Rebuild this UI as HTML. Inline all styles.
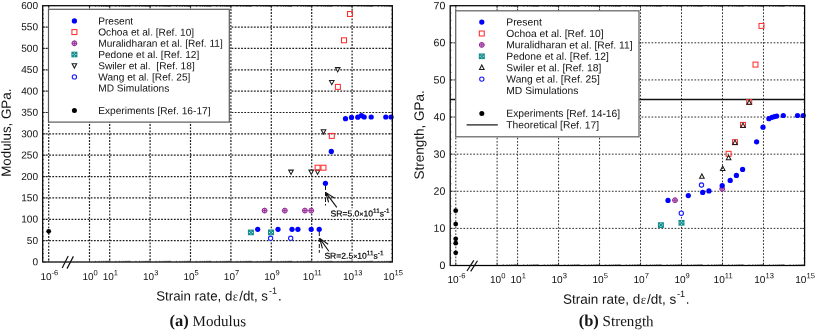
<!DOCTYPE html>
<html lang="en"><head><meta charset="utf-8"><title>Modulus and Strength vs strain rate</title>
<style>html,body{margin:0;padding:0;background:#fff}body{width:815px;height:330px;overflow:hidden}svg{display:block;text-rendering:geometricPrecision}</style>
</head><body>
<svg width="815" height="330" viewBox="0 0 815 330">
<rect width="815" height="330" fill="#fff"/>
<g stroke="#202020" stroke-width="1.2" stroke-dasharray="1.8 1.4" fill="none">
<path d="M48.7 5.7V262"/>
<path d="M89.5 5.7V262"/>
<path d="M109.7 5.7V262"/>
<path d="M150.1 5.7V262"/>
<path d="M190.5 5.7V262"/>
<path d="M230.9 5.7V262"/>
<path d="M271.3 5.7V262"/>
<path d="M311.7 5.7V262"/>
<path d="M352.1 5.7V262"/>
<path d="M42.7 240.64H392.35"/>
<path d="M42.7 219.28H392.35"/>
<path d="M42.7 197.93H392.35"/>
<path d="M42.7 176.57H392.35"/>
<path d="M42.7 155.21H392.35"/>
<path d="M42.7 133.85H392.35"/>
<path d="M42.7 112.49H392.35"/>
<path d="M42.7 91.13H392.35"/>
<path d="M42.7 69.78H392.35"/>
<path d="M42.7 48.42H392.35"/>
<path d="M42.7 27.06H392.35"/>
</g>
<path d="M325.5 186V205.5M319.3 232V252.8" stroke="#111" stroke-width="1" stroke-dasharray="4 2" fill="none"/>
<path d="M335.4 67.6L340 67.6L337.7 71.9Z" fill="#fff" stroke="#1c1c1c" stroke-width="1.05" stroke-linejoin="miter"/>
<path d="M329.5 80.4L334.1 80.4L331.8 84.7Z" fill="#fff" stroke="#1c1c1c" stroke-width="1.05" stroke-linejoin="miter"/>
<path d="M321.2 129.8L325.8 129.8L323.5 134.1Z" fill="#fff" stroke="#1c1c1c" stroke-width="1.05" stroke-linejoin="miter"/>
<path d="M288.7 170.1L293.3 170.1L291 174.4Z" fill="#fff" stroke="#1c1c1c" stroke-width="1.05" stroke-linejoin="miter"/>
<path d="M308.9 170.1L313.5 170.1L311.2 174.4Z" fill="#fff" stroke="#1c1c1c" stroke-width="1.05" stroke-linejoin="miter"/>
<path d="M315.3 170.1L319.9 170.1L317.6 174.4Z" fill="#fff" stroke="#1c1c1c" stroke-width="1.05" stroke-linejoin="miter"/>
<rect x="347.52" y="11.53" width="4.95" height="4.95" fill="none" stroke="#ff2e2e" stroke-width="1.05"/>
<rect x="341.52" y="37.82" width="4.95" height="4.95" fill="none" stroke="#ff2e2e" stroke-width="1.05"/>
<rect x="335.42" y="84.43" width="4.95" height="4.95" fill="none" stroke="#ff2e2e" stroke-width="1.05"/>
<rect x="329.32" y="133.43" width="4.95" height="4.95" fill="none" stroke="#ff2e2e" stroke-width="1.05"/>
<rect x="315.12" y="165.22" width="4.95" height="4.95" fill="none" stroke="#ff2e2e" stroke-width="1.05"/>
<rect x="321.02" y="165.22" width="4.95" height="4.95" fill="none" stroke="#ff2e2e" stroke-width="1.05"/>
<circle cx="264.6" cy="210.6" r="2.45" fill="#d6a6d6" stroke="#8f1f8f" stroke-width="0.95"/><path d="M262.15 210.6h4.9M264.6 208.15v4.9" stroke="#8f1f8f" stroke-width="0.8" fill="none"/>
<circle cx="284.8" cy="210.6" r="2.45" fill="#d6a6d6" stroke="#8f1f8f" stroke-width="0.95"/><path d="M282.35 210.6h4.9M284.8 208.15v4.9" stroke="#8f1f8f" stroke-width="0.8" fill="none"/>
<circle cx="304.9" cy="210.6" r="2.45" fill="#d6a6d6" stroke="#8f1f8f" stroke-width="0.95"/><path d="M302.45 210.6h4.9M304.9 208.15v4.9" stroke="#8f1f8f" stroke-width="0.8" fill="none"/>
<circle cx="311.2" cy="210.6" r="2.45" fill="#d6a6d6" stroke="#8f1f8f" stroke-width="0.95"/><path d="M308.75 210.6h4.9M311.2 208.15v4.9" stroke="#8f1f8f" stroke-width="0.8" fill="none"/>
<rect x="247.9" y="229.55" width="6" height="5.7" fill="#148c8c"/><path d="M250.4 230.4h1v1h-1zM250.4 233.4h1v1h-1zM248.9 231.9h1v1h-1zM251.9 231.9h1v1h-1z" fill="#c4eeee"/>
<rect x="268" y="229.55" width="6" height="5.7" fill="#148c8c"/><path d="M270.5 230.4h1v1h-1zM270.5 233.4h1v1h-1zM269 231.9h1v1h-1zM272 231.9h1v1h-1z" fill="#c4eeee"/>
<circle cx="270.6" cy="238.3" r="2.15" fill="#fff" stroke="#1a1aff" stroke-width="1.1"/>
<circle cx="290.7" cy="238.3" r="2.15" fill="#fff" stroke="#1a1aff" stroke-width="1.1"/>
<circle cx="257.7" cy="229.3" r="2.62" fill="#0000ff"/>
<circle cx="278" cy="229.3" r="2.62" fill="#0000ff"/>
<circle cx="292" cy="229.3" r="2.62" fill="#0000ff"/>
<circle cx="297.9" cy="229.3" r="2.62" fill="#0000ff"/>
<circle cx="311.2" cy="229.3" r="2.62" fill="#0000ff"/>
<circle cx="319.2" cy="229.3" r="2.62" fill="#0000ff"/>
<circle cx="325.4" cy="183.3" r="2.62" fill="#0000ff"/>
<circle cx="331.3" cy="151.4" r="2.62" fill="#0000ff"/>
<circle cx="345.5" cy="118.7" r="2.62" fill="#0000ff"/>
<circle cx="351.5" cy="117.4" r="2.62" fill="#0000ff"/>
<circle cx="357.8" cy="117.2" r="2.62" fill="#0000ff"/>
<circle cx="361.4" cy="115.6" r="2.62" fill="#0000ff"/>
<circle cx="364.2" cy="117" r="2.62" fill="#0000ff"/>
<circle cx="371.2" cy="117" r="2.62" fill="#0000ff"/>
<circle cx="385.8" cy="117" r="2.62" fill="#0000ff"/>
<circle cx="391.1" cy="117" r="2.62" fill="#0000ff"/>
<circle cx="48.7" cy="231.3" r="2.4" fill="#000"/>
<path d="M336.8 207.3L325.6 192.4M325.6 192.4L334.23 198.02M325.6 192.4L328.6 202.25" stroke="#111" stroke-width="1.1" fill="none"/>
<path d="M329.2 251.8L319.7 238.4M319.7 238.4L328.17 244.26M319.7 238.4L322.42 248.33" stroke="#111" stroke-width="1.1" fill="none"/>
<path d="M330.3 208.3H390V218.4H330.3ZM324.2 251.6H384V260.9H324.2Z" fill="#fff"/>
<g font-family="Liberation Sans, Arial, sans-serif" font-size="8.55" fill="#000" stroke="#000" stroke-width="0.2">
<text x="330.6" y="216.6" transform="rotate(0.03 330.6 216.6)">SR=5.0<tspan font-size="7.2">×</tspan>10<tspan dy="-3.6" font-size="6.4">11</tspan><tspan dy="3.6">s</tspan><tspan dy="-3.6" font-size="6.4">-1</tspan></text>
<text x="324.4" y="258.8" transform="rotate(0.03 324.4 258.8)">SR=2.5<tspan font-size="7.2">×</tspan>10<tspan dy="-3.6" font-size="6.4">11</tspan><tspan dy="3.6">s</tspan><tspan dy="-3.6" font-size="6.4">-1</tspan></text>
</g>
<g stroke="#000" fill="none">
<rect x="42.7" y="5.7" width="349.65" height="256.3" stroke-width="1.25"/>
<path d="M42.7 262h3M392.35 262h-3M42.7 257.73h1.3M392.35 257.73h-1.3M42.7 253.46h1.3M392.35 253.46h-1.3M42.7 249.19h1.3M392.35 249.19h-1.3M42.7 244.91h1.3M392.35 244.91h-1.3M42.7 240.64h3M392.35 240.64h-3M42.7 236.37h1.3M392.35 236.37h-1.3M42.7 232.1h1.3M392.35 232.1h-1.3M42.7 227.83h1.3M392.35 227.83h-1.3M42.7 223.56h1.3M392.35 223.56h-1.3M42.7 219.28h3M392.35 219.28h-3M42.7 215.01h1.3M392.35 215.01h-1.3M42.7 210.74h1.3M392.35 210.74h-1.3M42.7 206.47h1.3M392.35 206.47h-1.3M42.7 202.2h1.3M392.35 202.2h-1.3M42.7 197.93h3M392.35 197.93h-3M42.7 193.65h1.3M392.35 193.65h-1.3M42.7 189.38h1.3M392.35 189.38h-1.3M42.7 185.11h1.3M392.35 185.11h-1.3M42.7 180.84h1.3M392.35 180.84h-1.3M42.7 176.57h3M392.35 176.57h-3M42.7 172.3h1.3M392.35 172.3h-1.3M42.7 168.02h1.3M392.35 168.02h-1.3M42.7 163.75h1.3M392.35 163.75h-1.3M42.7 159.48h1.3M392.35 159.48h-1.3M42.7 155.21h3M392.35 155.21h-3M42.7 150.94h1.3M392.35 150.94h-1.3M42.7 146.67h1.3M392.35 146.67h-1.3M42.7 142.39h1.3M392.35 142.39h-1.3M42.7 138.12h1.3M392.35 138.12h-1.3M42.7 133.85h3M392.35 133.85h-3M42.7 129.58h1.3M392.35 129.58h-1.3M42.7 125.31h1.3M392.35 125.31h-1.3M42.7 121.03h1.3M392.35 121.03h-1.3M42.7 116.76h1.3M392.35 116.76h-1.3M42.7 112.49h3M392.35 112.49h-3M42.7 108.22h1.3M392.35 108.22h-1.3M42.7 103.95h1.3M392.35 103.95h-1.3M42.7 99.68h1.3M392.35 99.68h-1.3M42.7 95.41h1.3M392.35 95.41h-1.3M42.7 91.13h3M392.35 91.13h-3M42.7 86.86h1.3M392.35 86.86h-1.3M42.7 82.59h1.3M392.35 82.59h-1.3M42.7 78.32h1.3M392.35 78.32h-1.3M42.7 74.05h1.3M392.35 74.05h-1.3M42.7 69.78h3M392.35 69.78h-3M42.7 65.5h1.3M392.35 65.5h-1.3M42.7 61.23h1.3M392.35 61.23h-1.3M42.7 56.96h1.3M392.35 56.96h-1.3M42.7 52.69h1.3M392.35 52.69h-1.3M42.7 48.42h3M392.35 48.42h-3M42.7 44.15h1.3M392.35 44.15h-1.3M42.7 39.87h1.3M392.35 39.87h-1.3M42.7 35.6h1.3M392.35 35.6h-1.3M42.7 31.33h1.3M392.35 31.33h-1.3M42.7 27.06h3M392.35 27.06h-3M42.7 22.79h1.3M392.35 22.79h-1.3M42.7 18.51h1.3M392.35 18.51h-1.3M42.7 14.24h1.3M392.35 14.24h-1.3M42.7 9.97h1.3M392.35 9.97h-1.3M42.7 5.7h3M392.35 5.7h-3M89.5 262v-3M89.5 5.7v3M109.7 262v-3M109.7 5.7v3M129.9 262v-1.3M129.9 5.7v1.3M150.1 262v-3M150.1 5.7v3M170.3 262v-1.3M170.3 5.7v1.3M190.5 262v-3M190.5 5.7v3M210.7 262v-1.3M210.7 5.7v1.3M230.9 262v-3M230.9 5.7v3M251.1 262v-1.3M251.1 5.7v1.3M271.3 262v-3M271.3 5.7v3M291.5 262v-1.3M291.5 5.7v1.3M311.7 262v-3M311.7 5.7v3M331.9 262v-1.3M331.9 5.7v1.3M352.1 262v-3M352.1 5.7v3M372.3 262v-1.3M372.3 5.7v1.3M392.5 262v-3M392.5 5.7v3M95.58 262v-1.2M95.58 5.7v1.2M99.14 262v-1.2M99.14 5.7v1.2M101.66 262v-1.2M101.66 5.7v1.2M103.62 262v-1.2M103.62 5.7v1.2M105.22 262v-1.2M105.22 5.7v1.2M106.57 262v-1.2M106.57 5.7v1.2M107.74 262v-1.2M107.74 5.7v1.2M108.78 262v-1.2M108.78 5.7v1.2M115.78 262v-1.2M115.78 5.7v1.2M119.34 262v-1.2M119.34 5.7v1.2M121.86 262v-1.2M121.86 5.7v1.2M123.82 262v-1.2M123.82 5.7v1.2M125.42 262v-1.2M125.42 5.7v1.2M126.77 262v-1.2M126.77 5.7v1.2M127.94 262v-1.2M127.94 5.7v1.2M128.98 262v-1.2M128.98 5.7v1.2M135.98 262v-1.2M135.98 5.7v1.2M139.54 262v-1.2M139.54 5.7v1.2M142.06 262v-1.2M142.06 5.7v1.2M144.02 262v-1.2M144.02 5.7v1.2M145.62 262v-1.2M145.62 5.7v1.2M146.97 262v-1.2M146.97 5.7v1.2M148.14 262v-1.2M148.14 5.7v1.2M149.18 262v-1.2M149.18 5.7v1.2M156.18 262v-1.2M156.18 5.7v1.2M159.74 262v-1.2M159.74 5.7v1.2M162.26 262v-1.2M162.26 5.7v1.2M164.22 262v-1.2M164.22 5.7v1.2M165.82 262v-1.2M165.82 5.7v1.2M167.17 262v-1.2M167.17 5.7v1.2M168.34 262v-1.2M168.34 5.7v1.2M169.38 262v-1.2M169.38 5.7v1.2M176.38 262v-1.2M176.38 5.7v1.2M179.94 262v-1.2M179.94 5.7v1.2M182.46 262v-1.2M182.46 5.7v1.2M184.42 262v-1.2M184.42 5.7v1.2M186.02 262v-1.2M186.02 5.7v1.2M187.37 262v-1.2M187.37 5.7v1.2M188.54 262v-1.2M188.54 5.7v1.2M189.58 262v-1.2M189.58 5.7v1.2M196.58 262v-1.2M196.58 5.7v1.2M200.14 262v-1.2M200.14 5.7v1.2M202.66 262v-1.2M202.66 5.7v1.2M204.62 262v-1.2M204.62 5.7v1.2M206.22 262v-1.2M206.22 5.7v1.2M207.57 262v-1.2M207.57 5.7v1.2M208.74 262v-1.2M208.74 5.7v1.2M209.78 262v-1.2M209.78 5.7v1.2M216.78 262v-1.2M216.78 5.7v1.2M220.34 262v-1.2M220.34 5.7v1.2M222.86 262v-1.2M222.86 5.7v1.2M224.82 262v-1.2M224.82 5.7v1.2M226.42 262v-1.2M226.42 5.7v1.2M227.77 262v-1.2M227.77 5.7v1.2M228.94 262v-1.2M228.94 5.7v1.2M229.98 262v-1.2M229.98 5.7v1.2M236.98 262v-1.2M236.98 5.7v1.2M240.54 262v-1.2M240.54 5.7v1.2M243.06 262v-1.2M243.06 5.7v1.2M245.02 262v-1.2M245.02 5.7v1.2M246.62 262v-1.2M246.62 5.7v1.2M247.97 262v-1.2M247.97 5.7v1.2M249.14 262v-1.2M249.14 5.7v1.2M250.18 262v-1.2M250.18 5.7v1.2M257.18 262v-1.2M257.18 5.7v1.2M260.74 262v-1.2M260.74 5.7v1.2M263.26 262v-1.2M263.26 5.7v1.2M265.22 262v-1.2M265.22 5.7v1.2M266.82 262v-1.2M266.82 5.7v1.2M268.17 262v-1.2M268.17 5.7v1.2M269.34 262v-1.2M269.34 5.7v1.2M270.38 262v-1.2M270.38 5.7v1.2M277.38 262v-1.2M277.38 5.7v1.2M280.94 262v-1.2M280.94 5.7v1.2M283.46 262v-1.2M283.46 5.7v1.2M285.42 262v-1.2M285.42 5.7v1.2M287.02 262v-1.2M287.02 5.7v1.2M288.37 262v-1.2M288.37 5.7v1.2M289.54 262v-1.2M289.54 5.7v1.2M290.58 262v-1.2M290.58 5.7v1.2M297.58 262v-1.2M297.58 5.7v1.2M301.14 262v-1.2M301.14 5.7v1.2M303.66 262v-1.2M303.66 5.7v1.2M305.62 262v-1.2M305.62 5.7v1.2M307.22 262v-1.2M307.22 5.7v1.2M308.57 262v-1.2M308.57 5.7v1.2M309.74 262v-1.2M309.74 5.7v1.2M310.78 262v-1.2M310.78 5.7v1.2M317.78 262v-1.2M317.78 5.7v1.2M321.34 262v-1.2M321.34 5.7v1.2M323.86 262v-1.2M323.86 5.7v1.2M325.82 262v-1.2M325.82 5.7v1.2M327.42 262v-1.2M327.42 5.7v1.2M328.77 262v-1.2M328.77 5.7v1.2M329.94 262v-1.2M329.94 5.7v1.2M330.98 262v-1.2M330.98 5.7v1.2M337.98 262v-1.2M337.98 5.7v1.2M341.54 262v-1.2M341.54 5.7v1.2M344.06 262v-1.2M344.06 5.7v1.2M346.02 262v-1.2M346.02 5.7v1.2M347.62 262v-1.2M347.62 5.7v1.2M348.97 262v-1.2M348.97 5.7v1.2M350.14 262v-1.2M350.14 5.7v1.2M351.18 262v-1.2M351.18 5.7v1.2M358.18 262v-1.2M358.18 5.7v1.2M361.74 262v-1.2M361.74 5.7v1.2M364.26 262v-1.2M364.26 5.7v1.2M366.22 262v-1.2M366.22 5.7v1.2M367.82 262v-1.2M367.82 5.7v1.2M369.17 262v-1.2M369.17 5.7v1.2M370.34 262v-1.2M370.34 5.7v1.2M371.38 262v-1.2M371.38 5.7v1.2M378.38 262v-1.2M378.38 5.7v1.2M381.94 262v-1.2M381.94 5.7v1.2M384.46 262v-1.2M384.46 5.7v1.2M386.42 262v-1.2M386.42 5.7v1.2M388.02 262v-1.2M388.02 5.7v1.2M389.37 262v-1.2M389.37 5.7v1.2M390.54 262v-1.2M390.54 5.7v1.2M391.58 262v-1.2M391.58 5.7v1.2M48.7 262v-3.2M48.7 5.7v3.2" stroke-width="0.65" stroke="#222"/>
</g>
<path d="M62.2 268L68.2 256M67 268.6L73.4 256.4" stroke="#111" stroke-width="1.2" fill="none"/>
<g font-family="Liberation Sans, Arial, sans-serif" font-size="10.1" fill="#111">
<text x="38.1" y="265.33" text-anchor="end" transform="rotate(0.03 38.1 265.33)">0</text>
<text x="38.1" y="243.97" text-anchor="end" transform="rotate(0.03 38.1 243.97)">50</text>
<text x="38.1" y="222.62" text-anchor="end" transform="rotate(0.03 38.1 222.62)">100</text>
<text x="38.1" y="201.26" text-anchor="end" transform="rotate(0.03 38.1 201.26)">150</text>
<text x="38.1" y="179.9" text-anchor="end" transform="rotate(0.03 38.1 179.9)">200</text>
<text x="38.1" y="158.54" text-anchor="end" transform="rotate(0.03 38.1 158.54)">250</text>
<text x="38.1" y="137.18" text-anchor="end" transform="rotate(0.03 38.1 137.18)">300</text>
<text x="38.1" y="115.82" text-anchor="end" transform="rotate(0.03 38.1 115.82)">350</text>
<text x="38.1" y="94.47" text-anchor="end" transform="rotate(0.03 38.1 94.47)">400</text>
<text x="38.1" y="73.11" text-anchor="end" transform="rotate(0.03 38.1 73.11)">450</text>
<text x="38.1" y="51.75" text-anchor="end" transform="rotate(0.03 38.1 51.75)">500</text>
<text x="38.1" y="30.39" text-anchor="end" transform="rotate(0.03 38.1 30.39)">550</text>
<text x="38.1" y="9.03" text-anchor="end" transform="rotate(0.03 38.1 9.03)">600</text>
</g>
<g font-family="Liberation Sans, Arial, sans-serif" font-size="10" fill="#111">
<text x="49.3" y="280.1" text-anchor="middle" transform="rotate(0.03 49.3 280.1)">10<tspan dx="0" dy="-4.8" font-size="7.5">-6</tspan></text>
<text x="90.1" y="280.1" text-anchor="middle" transform="rotate(0.03 90.1 280.1)">10<tspan dx="0" dy="-4.8" font-size="7.5">0</tspan></text>
<text x="110.3" y="280.1" text-anchor="middle" transform="rotate(0.03 110.3 280.1)">10<tspan dx="0" dy="-4.8" font-size="7.5">1</tspan></text>
<text x="150.7" y="280.1" text-anchor="middle" transform="rotate(0.03 150.7 280.1)">10<tspan dx="0" dy="-4.8" font-size="7.5">3</tspan></text>
<text x="191.1" y="280.1" text-anchor="middle" transform="rotate(0.03 191.1 280.1)">10<tspan dx="0" dy="-4.8" font-size="7.5">5</tspan></text>
<text x="231.5" y="280.1" text-anchor="middle" transform="rotate(0.03 231.5 280.1)">10<tspan dx="0" dy="-4.8" font-size="7.5">7</tspan></text>
<text x="271.9" y="280.1" text-anchor="middle" transform="rotate(0.03 271.9 280.1)">10<tspan dx="0" dy="-4.8" font-size="7.5">9</tspan></text>
<text x="312.3" y="280.1" text-anchor="middle" transform="rotate(0.03 312.3 280.1)">10<tspan dx="0" dy="-4.8" font-size="7.5">11</tspan></text>
<text x="352.7" y="280.1" text-anchor="middle" transform="rotate(0.03 352.7 280.1)">10<tspan dx="0" dy="-4.8" font-size="7.5">13</tspan></text>
<text x="393.1" y="280.1" text-anchor="middle" transform="rotate(0.03 393.1 280.1)">10<tspan dx="0" dy="-4.8" font-size="7.5">15</tspan></text>
</g>
<rect x="48.5" y="9.3" width="180.8" height="112.8" fill="#fff" stroke="#5a5a5a" stroke-width="1.2"/>
<circle cx="74.4" cy="20.9" r="2.62" fill="#0000ff"/>
<rect x="71.93" y="29.62" width="4.95" height="4.95" fill="none" stroke="#ff2e2e" stroke-width="1.05"/>
<circle cx="74.4" cy="43.3" r="2.45" fill="#d6a6d6" stroke="#8f1f8f" stroke-width="0.95"/><path d="M71.95 43.3h4.9M74.4 40.85v4.9" stroke="#8f1f8f" stroke-width="0.8" fill="none"/>
<rect x="71.4" y="51.65" width="6" height="5.7" fill="#148c8c"/><path d="M73.9 52.5h1v1h-1zM73.9 55.5h1v1h-1zM72.4 54h1v1h-1zM75.4 54h1v1h-1z" fill="#c4eeee"/>
<path d="M72.1 63.8L76.7 63.8L74.4 68.1Z" fill="#fff" stroke="#1c1c1c" stroke-width="1.05" stroke-linejoin="miter"/>
<circle cx="74.4" cy="76.9" r="2.15" fill="#fff" stroke="#1a1aff" stroke-width="1.1"/>
<circle cx="74.4" cy="110.6" r="2.5" fill="#000"/>
<g font-family="Liberation Sans, Arial, sans-serif" font-size="10.16" fill="#111">
<text x="98.2" y="24.4" xml:space="preserve" transform="rotate(0.03 98.2 24.4)">Present</text>
<text x="98.2" y="35.6" xml:space="preserve" transform="rotate(0.03 98.2 35.6)">Ochoa et al. [Ref. 10]</text>
<text x="98.2" y="46.8" xml:space="preserve" transform="rotate(0.03 98.2 46.8)">Muralidharan et al. [Ref. 11]</text>
<text x="98.2" y="58" xml:space="preserve" transform="rotate(0.03 98.2 58)">Pedone et al. [Ref. 12]</text>
<text x="98.2" y="69.2" xml:space="preserve" transform="rotate(0.03 98.2 69.2)">Swiler et al.  [Ref. 18]</text>
<text x="98.2" y="80.4" xml:space="preserve" transform="rotate(0.03 98.2 80.4)">Wang et al. [Ref. 25]</text>
<text x="98.2" y="91.6" xml:space="preserve" transform="rotate(0.03 98.2 91.6)">MD Simulations</text>
<text x="98.2" y="114.1" xml:space="preserve" transform="rotate(0.03 98.2 114.1)">Experiments [Ref. 16-17]</text>
</g>
<text font-family="Liberation Sans, Arial, sans-serif" font-size="13.33" fill="#111" text-anchor="middle" transform="translate(10.8 132.7) rotate(-89.97)">Modulus, GPa.</text>
<text font-family="Liberation Sans, Arial, sans-serif" font-size="13.3" fill="#111" x="156.2" y="300.5" transform="rotate(0.03 156.2 300.5)">Strain rate, d<tspan font-family="Liberation Serif, Times New Roman, serif" font-size="12.5" dx="0.4">ε</tspan><tspan dx="1.2">/dt, s</tspan><tspan dy="-6.7" dx="1" font-size="9">-1</tspan><tspan dy="6.7" dx="1">.</tspan></text>
<text font-family="Liberation Serif, Times New Roman, serif" font-size="15.05" fill="#161616" x="169.5" y="326.1" transform="rotate(0.03 169.5 326.1)"><tspan font-weight="bold" font-size="16.5">(a)</tspan> Modulus</text>
<g stroke="#262626" stroke-width="0.95" stroke-dasharray="1.7 1.6" fill="none">
<path d="M455.8 5.7V265.5"/>
<path d="M497.1 5.7V265.5"/>
<path d="M517.59 5.7V265.5"/>
<path d="M558.57 5.7V265.5"/>
<path d="M599.55 5.7V265.5"/>
<path d="M640.53 5.7V265.5"/>
<path d="M681.51 5.7V265.5"/>
<path d="M722.49 5.7V265.5"/>
<path d="M763.47 5.7V265.5"/>
<path d="M450.2 228.39H804.6"/>
<path d="M450.2 191.27H804.6"/>
<path d="M450.2 154.16H804.6"/>
<path d="M450.2 117.04H804.6"/>
<path d="M450.2 79.93H804.6"/>
<path d="M450.2 42.81H804.6"/>
</g>
<path d="M450.2 99.5H804.6" stroke="#111" stroke-width="1.3" fill="none"/>
<rect x="759.02" y="23.42" width="4.95" height="4.95" fill="none" stroke="#ff2e2e" stroke-width="1.05"/>
<rect x="753.02" y="62.12" width="4.95" height="4.95" fill="none" stroke="#ff2e2e" stroke-width="1.05"/>
<rect x="746.73" y="99.53" width="4.95" height="4.95" fill="none" stroke="#ff2e2e" stroke-width="1.05"/>
<rect x="740.52" y="122.43" width="4.95" height="4.95" fill="none" stroke="#ff2e2e" stroke-width="1.05"/>
<rect x="732.52" y="139.72" width="4.95" height="4.95" fill="none" stroke="#ff2e2e" stroke-width="1.05"/>
<rect x="726.12" y="151.33" width="4.95" height="4.95" fill="none" stroke="#ff2e2e" stroke-width="1.05"/>
<path d="M746.9 104.3L751.5 104.3L749.2 99.9Z" fill="none" stroke="#1c1c1c" stroke-width="1.05"/>
<path d="M740.7 127.5L745.3 127.5L743 123.1Z" fill="none" stroke="#1c1c1c" stroke-width="1.05"/>
<path d="M732.7 144.5L737.3 144.5L735 140.1Z" fill="none" stroke="#1c1c1c" stroke-width="1.05"/>
<path d="M726.3 159.7L730.9 159.7L728.6 155.3Z" fill="none" stroke="#1c1c1c" stroke-width="1.05"/>
<path d="M720.4 170.5L725 170.5L722.7 166.1Z" fill="none" stroke="#1c1c1c" stroke-width="1.05"/>
<path d="M699.6 178.3L704.2 178.3L701.9 173.9Z" fill="none" stroke="#1c1c1c" stroke-width="1.05"/>
<circle cx="722.2" cy="188.8" r="2.45" fill="#d6a6d6" stroke="#8f1f8f" stroke-width="0.95"/><path d="M719.75 188.8h4.9M722.2 186.35v4.9" stroke="#8f1f8f" stroke-width="0.8" fill="none"/>
<circle cx="675" cy="200.2" r="2.45" fill="#d6a6d6" stroke="#8f1f8f" stroke-width="0.95"/><path d="M672.55 200.2h4.9M675 197.75v4.9" stroke="#8f1f8f" stroke-width="0.8" fill="none"/>
<rect x="657.9" y="222.25" width="6" height="5.7" fill="#148c8c"/><path d="M660.4 223.1h1v1h-1zM660.4 226.1h1v1h-1zM658.9 224.6h1v1h-1zM661.9 224.6h1v1h-1z" fill="#c4eeee"/>
<rect x="678.5" y="219.95" width="6" height="5.7" fill="#148c8c"/><path d="M681 220.8h1v1h-1zM681 223.8h1v1h-1zM679.5 222.3h1v1h-1zM682.5 222.3h1v1h-1z" fill="#c4eeee"/>
<circle cx="701.5" cy="185" r="2.15" fill="#fff" stroke="#1a1aff" stroke-width="1.1"/>
<circle cx="681.3" cy="213.2" r="2.15" fill="#fff" stroke="#1a1aff" stroke-width="1.1"/>
<circle cx="668" cy="200.4" r="2.62" fill="#0000ff"/>
<circle cx="688.3" cy="195.6" r="2.62" fill="#0000ff"/>
<circle cx="702.7" cy="192.4" r="2.62" fill="#0000ff"/>
<circle cx="708.9" cy="190.9" r="2.62" fill="#0000ff"/>
<circle cx="722.2" cy="185.6" r="2.62" fill="#0000ff"/>
<circle cx="730.2" cy="180.4" r="2.62" fill="#0000ff"/>
<circle cx="736.4" cy="175.4" r="2.62" fill="#0000ff"/>
<circle cx="742.6" cy="169.4" r="2.62" fill="#0000ff"/>
<circle cx="756.6" cy="141.8" r="2.62" fill="#0000ff"/>
<circle cx="763" cy="127.2" r="2.62" fill="#0000ff"/>
<circle cx="768.9" cy="118.7" r="2.62" fill="#0000ff"/>
<circle cx="772" cy="117.3" r="2.62" fill="#0000ff"/>
<circle cx="774.6" cy="116.6" r="2.62" fill="#0000ff"/>
<circle cx="776.7" cy="116.1" r="2.62" fill="#0000ff"/>
<circle cx="783.3" cy="115.5" r="2.62" fill="#0000ff"/>
<circle cx="797.5" cy="115.5" r="2.62" fill="#0000ff"/>
<circle cx="803.2" cy="115.5" r="2.62" fill="#0000ff"/>
<circle cx="455.7" cy="210.7" r="2.4" fill="#000"/>
<circle cx="455.7" cy="224.1" r="2.4" fill="#000"/>
<circle cx="455.7" cy="238.8" r="2.4" fill="#000"/>
<circle cx="455.7" cy="243.2" r="2.4" fill="#000"/>
<circle cx="455.7" cy="252.8" r="2.4" fill="#000"/>
<g stroke="#000" fill="none">
<rect x="450.2" y="5.7" width="354.4" height="259.8" stroke-width="1.25"/>
<path d="M450.2 265.5h3M804.6 265.5h-3M450.2 258.08h1.3M804.6 258.08h-1.3M450.2 250.65h1.3M804.6 250.65h-1.3M450.2 243.23h1.3M804.6 243.23h-1.3M450.2 235.81h1.3M804.6 235.81h-1.3M450.2 228.39h3M804.6 228.39h-3M450.2 220.96h1.3M804.6 220.96h-1.3M450.2 213.54h1.3M804.6 213.54h-1.3M450.2 206.12h1.3M804.6 206.12h-1.3M450.2 198.69h1.3M804.6 198.69h-1.3M450.2 191.27h3M804.6 191.27h-3M450.2 183.85h1.3M804.6 183.85h-1.3M450.2 176.43h1.3M804.6 176.43h-1.3M450.2 169h1.3M804.6 169h-1.3M450.2 161.58h1.3M804.6 161.58h-1.3M450.2 154.16h3M804.6 154.16h-3M450.2 146.73h1.3M804.6 146.73h-1.3M450.2 139.31h1.3M804.6 139.31h-1.3M450.2 131.89h1.3M804.6 131.89h-1.3M450.2 124.47h1.3M804.6 124.47h-1.3M450.2 117.04h3M804.6 117.04h-3M450.2 109.62h1.3M804.6 109.62h-1.3M450.2 102.2h1.3M804.6 102.2h-1.3M450.2 94.77h1.3M804.6 94.77h-1.3M450.2 87.35h1.3M804.6 87.35h-1.3M450.2 79.93h3M804.6 79.93h-3M450.2 72.51h1.3M804.6 72.51h-1.3M450.2 65.08h1.3M804.6 65.08h-1.3M450.2 57.66h1.3M804.6 57.66h-1.3M450.2 50.24h1.3M804.6 50.24h-1.3M450.2 42.81h3M804.6 42.81h-3M450.2 35.39h1.3M804.6 35.39h-1.3M450.2 27.97h1.3M804.6 27.97h-1.3M450.2 20.55h1.3M804.6 20.55h-1.3M450.2 13.12h1.3M804.6 13.12h-1.3M450.2 5.7h3M804.6 5.7h-3M497.1 265.5v-3M497.1 5.7v3M517.59 265.5v-3M517.59 5.7v3M538.08 265.5v-1.3M538.08 5.7v1.3M558.57 265.5v-3M558.57 5.7v3M579.06 265.5v-1.3M579.06 5.7v1.3M599.55 265.5v-3M599.55 5.7v3M620.04 265.5v-1.3M620.04 5.7v1.3M640.53 265.5v-3M640.53 5.7v3M661.02 265.5v-1.3M661.02 5.7v1.3M681.51 265.5v-3M681.51 5.7v3M702 265.5v-1.3M702 5.7v1.3M722.49 265.5v-3M722.49 5.7v3M742.98 265.5v-1.3M742.98 5.7v1.3M763.47 265.5v-3M763.47 5.7v3M783.96 265.5v-1.3M783.96 5.7v1.3M804.45 265.5v-3M804.45 5.7v3M503.27 265.5v-1.2M503.27 5.7v1.2M506.88 265.5v-1.2M506.88 5.7v1.2M509.44 265.5v-1.2M509.44 5.7v1.2M511.42 265.5v-1.2M511.42 5.7v1.2M513.04 265.5v-1.2M513.04 5.7v1.2M514.42 265.5v-1.2M514.42 5.7v1.2M515.6 265.5v-1.2M515.6 5.7v1.2M516.65 265.5v-1.2M516.65 5.7v1.2M523.76 265.5v-1.2M523.76 5.7v1.2M527.37 265.5v-1.2M527.37 5.7v1.2M529.93 265.5v-1.2M529.93 5.7v1.2M531.91 265.5v-1.2M531.91 5.7v1.2M533.53 265.5v-1.2M533.53 5.7v1.2M534.91 265.5v-1.2M534.91 5.7v1.2M536.09 265.5v-1.2M536.09 5.7v1.2M537.14 265.5v-1.2M537.14 5.7v1.2M544.25 265.5v-1.2M544.25 5.7v1.2M547.86 265.5v-1.2M547.86 5.7v1.2M550.42 265.5v-1.2M550.42 5.7v1.2M552.4 265.5v-1.2M552.4 5.7v1.2M554.02 265.5v-1.2M554.02 5.7v1.2M555.4 265.5v-1.2M555.4 5.7v1.2M556.58 265.5v-1.2M556.58 5.7v1.2M557.63 265.5v-1.2M557.63 5.7v1.2M564.74 265.5v-1.2M564.74 5.7v1.2M568.35 265.5v-1.2M568.35 5.7v1.2M570.91 265.5v-1.2M570.91 5.7v1.2M572.89 265.5v-1.2M572.89 5.7v1.2M574.51 265.5v-1.2M574.51 5.7v1.2M575.89 265.5v-1.2M575.89 5.7v1.2M577.07 265.5v-1.2M577.07 5.7v1.2M578.12 265.5v-1.2M578.12 5.7v1.2M585.23 265.5v-1.2M585.23 5.7v1.2M588.84 265.5v-1.2M588.84 5.7v1.2M591.4 265.5v-1.2M591.4 5.7v1.2M593.38 265.5v-1.2M593.38 5.7v1.2M595 265.5v-1.2M595 5.7v1.2M596.38 265.5v-1.2M596.38 5.7v1.2M597.56 265.5v-1.2M597.56 5.7v1.2M598.61 265.5v-1.2M598.61 5.7v1.2M605.72 265.5v-1.2M605.72 5.7v1.2M609.33 265.5v-1.2M609.33 5.7v1.2M611.89 265.5v-1.2M611.89 5.7v1.2M613.87 265.5v-1.2M613.87 5.7v1.2M615.49 265.5v-1.2M615.49 5.7v1.2M616.87 265.5v-1.2M616.87 5.7v1.2M618.05 265.5v-1.2M618.05 5.7v1.2M619.1 265.5v-1.2M619.1 5.7v1.2M626.21 265.5v-1.2M626.21 5.7v1.2M629.82 265.5v-1.2M629.82 5.7v1.2M632.38 265.5v-1.2M632.38 5.7v1.2M634.36 265.5v-1.2M634.36 5.7v1.2M635.98 265.5v-1.2M635.98 5.7v1.2M637.36 265.5v-1.2M637.36 5.7v1.2M638.54 265.5v-1.2M638.54 5.7v1.2M639.59 265.5v-1.2M639.59 5.7v1.2M646.7 265.5v-1.2M646.7 5.7v1.2M650.31 265.5v-1.2M650.31 5.7v1.2M652.87 265.5v-1.2M652.87 5.7v1.2M654.85 265.5v-1.2M654.85 5.7v1.2M656.47 265.5v-1.2M656.47 5.7v1.2M657.85 265.5v-1.2M657.85 5.7v1.2M659.03 265.5v-1.2M659.03 5.7v1.2M660.08 265.5v-1.2M660.08 5.7v1.2M667.19 265.5v-1.2M667.19 5.7v1.2M670.8 265.5v-1.2M670.8 5.7v1.2M673.36 265.5v-1.2M673.36 5.7v1.2M675.34 265.5v-1.2M675.34 5.7v1.2M676.96 265.5v-1.2M676.96 5.7v1.2M678.34 265.5v-1.2M678.34 5.7v1.2M679.52 265.5v-1.2M679.52 5.7v1.2M680.57 265.5v-1.2M680.57 5.7v1.2M687.68 265.5v-1.2M687.68 5.7v1.2M691.29 265.5v-1.2M691.29 5.7v1.2M693.85 265.5v-1.2M693.85 5.7v1.2M695.83 265.5v-1.2M695.83 5.7v1.2M697.45 265.5v-1.2M697.45 5.7v1.2M698.83 265.5v-1.2M698.83 5.7v1.2M700.01 265.5v-1.2M700.01 5.7v1.2M701.06 265.5v-1.2M701.06 5.7v1.2M708.17 265.5v-1.2M708.17 5.7v1.2M711.78 265.5v-1.2M711.78 5.7v1.2M714.34 265.5v-1.2M714.34 5.7v1.2M716.32 265.5v-1.2M716.32 5.7v1.2M717.94 265.5v-1.2M717.94 5.7v1.2M719.32 265.5v-1.2M719.32 5.7v1.2M720.5 265.5v-1.2M720.5 5.7v1.2M721.55 265.5v-1.2M721.55 5.7v1.2M728.66 265.5v-1.2M728.66 5.7v1.2M732.27 265.5v-1.2M732.27 5.7v1.2M734.83 265.5v-1.2M734.83 5.7v1.2M736.81 265.5v-1.2M736.81 5.7v1.2M738.43 265.5v-1.2M738.43 5.7v1.2M739.81 265.5v-1.2M739.81 5.7v1.2M740.99 265.5v-1.2M740.99 5.7v1.2M742.04 265.5v-1.2M742.04 5.7v1.2M749.15 265.5v-1.2M749.15 5.7v1.2M752.76 265.5v-1.2M752.76 5.7v1.2M755.32 265.5v-1.2M755.32 5.7v1.2M757.3 265.5v-1.2M757.3 5.7v1.2M758.92 265.5v-1.2M758.92 5.7v1.2M760.3 265.5v-1.2M760.3 5.7v1.2M761.48 265.5v-1.2M761.48 5.7v1.2M762.53 265.5v-1.2M762.53 5.7v1.2M769.64 265.5v-1.2M769.64 5.7v1.2M773.25 265.5v-1.2M773.25 5.7v1.2M775.81 265.5v-1.2M775.81 5.7v1.2M777.79 265.5v-1.2M777.79 5.7v1.2M779.41 265.5v-1.2M779.41 5.7v1.2M780.79 265.5v-1.2M780.79 5.7v1.2M781.97 265.5v-1.2M781.97 5.7v1.2M783.02 265.5v-1.2M783.02 5.7v1.2M790.13 265.5v-1.2M790.13 5.7v1.2M793.74 265.5v-1.2M793.74 5.7v1.2M796.3 265.5v-1.2M796.3 5.7v1.2M798.28 265.5v-1.2M798.28 5.7v1.2M799.9 265.5v-1.2M799.9 5.7v1.2M801.28 265.5v-1.2M801.28 5.7v1.2M802.46 265.5v-1.2M802.46 5.7v1.2M803.51 265.5v-1.2M803.51 5.7v1.2M455.8 265.5v-3.2M455.8 5.7v3.2" stroke-width="0.65" stroke="#222"/>
</g>
<path d="M467 271L473.8 260.4M470.7 271.4L477.5 260.8" stroke="#111" stroke-width="1.2" fill="none"/>
<g font-family="Liberation Sans, Arial, sans-serif" font-size="10.6" fill="#111">
<text x="445.4" y="269" text-anchor="end" transform="rotate(0.03 445.4 269)">0</text>
<text x="445.4" y="231.88" text-anchor="end" transform="rotate(0.03 445.4 231.88)">10</text>
<text x="445.4" y="194.77" text-anchor="end" transform="rotate(0.03 445.4 194.77)">20</text>
<text x="445.4" y="157.66" text-anchor="end" transform="rotate(0.03 445.4 157.66)">30</text>
<text x="445.4" y="120.54" text-anchor="end" transform="rotate(0.03 445.4 120.54)">40</text>
<text x="445.4" y="83.43" text-anchor="end" transform="rotate(0.03 445.4 83.43)">50</text>
<text x="445.4" y="46.31" text-anchor="end" transform="rotate(0.03 445.4 46.31)">60</text>
<text x="445.4" y="9.2" text-anchor="end" transform="rotate(0.03 445.4 9.2)">70</text>
</g>
<g font-family="Liberation Sans, Arial, sans-serif" font-size="10.1" fill="#111">
<text x="456.4" y="283.1" text-anchor="middle" transform="rotate(0.03 456.4 283.1)">10<tspan dx="0" dy="-4.85" font-size="7.57">-6</tspan></text>
<text x="497.7" y="283.1" text-anchor="middle" transform="rotate(0.03 497.7 283.1)">10<tspan dx="0" dy="-4.85" font-size="7.57">0</tspan></text>
<text x="518.19" y="283.1" text-anchor="middle" transform="rotate(0.03 518.19 283.1)">10<tspan dx="0" dy="-4.85" font-size="7.57">1</tspan></text>
<text x="559.17" y="283.1" text-anchor="middle" transform="rotate(0.03 559.17 283.1)">10<tspan dx="0" dy="-4.85" font-size="7.57">3</tspan></text>
<text x="600.15" y="283.1" text-anchor="middle" transform="rotate(0.03 600.15 283.1)">10<tspan dx="0" dy="-4.85" font-size="7.57">5</tspan></text>
<text x="641.13" y="283.1" text-anchor="middle" transform="rotate(0.03 641.13 283.1)">10<tspan dx="0" dy="-4.85" font-size="7.57">7</tspan></text>
<text x="682.11" y="283.1" text-anchor="middle" transform="rotate(0.03 682.11 283.1)">10<tspan dx="0" dy="-4.85" font-size="7.57">9</tspan></text>
<text x="723.09" y="283.1" text-anchor="middle" transform="rotate(0.03 723.09 283.1)">10<tspan dx="0" dy="-4.85" font-size="7.57">11</tspan></text>
<text x="764.07" y="283.1" text-anchor="middle" transform="rotate(0.03 764.07 283.1)">10<tspan dx="0" dy="-4.85" font-size="7.57">13</tspan></text>
<text x="805.05" y="283.1" text-anchor="middle" transform="rotate(0.03 805.05 283.1)">10<tspan dx="0" dy="-4.85" font-size="7.57">15</tspan></text>
</g>
<rect x="455.7" y="10.8" width="183.3" height="126" fill="#fff" stroke="#6a6a6a" stroke-width="1.3"/>
<circle cx="481.8" cy="22.1" r="2.62" fill="#0000ff"/>
<rect x="479.32" y="31.02" width="4.95" height="4.95" fill="none" stroke="#ff2e2e" stroke-width="1.05"/>
<circle cx="481.8" cy="44.9" r="2.45" fill="#d6a6d6" stroke="#8f1f8f" stroke-width="0.95"/><path d="M479.35 44.9h4.9M481.8 42.45v4.9" stroke="#8f1f8f" stroke-width="0.8" fill="none"/>
<rect x="478.8" y="53.45" width="6" height="5.7" fill="#148c8c"/><path d="M481.3 54.3h1v1h-1zM481.3 57.3h1v1h-1zM479.8 55.8h1v1h-1zM482.8 55.8h1v1h-1z" fill="#c4eeee"/>
<path d="M479.5 69.4L484.1 69.4L481.8 65Z" fill="#fff" stroke="#1c1c1c" stroke-width="1.05"/>
<circle cx="481.8" cy="79.1" r="2.15" fill="#fff" stroke="#1a1aff" stroke-width="1.1"/>
<circle cx="481.8" cy="113.4" r="2.5" fill="#000"/>
<path d="M466.6 124.9H497.8" stroke="#111" stroke-width="1.2"/>
<g font-family="Liberation Sans, Arial, sans-serif" font-size="10.3" fill="#111">
<text x="506.3" y="25.55" transform="rotate(0.03 506.3 25.55)">Present</text>
<text x="506.3" y="36.95" transform="rotate(0.03 506.3 36.95)">Ochoa et al. [Ref. 10]</text>
<text x="506.3" y="48.35" transform="rotate(0.03 506.3 48.35)">Muralidharan et al. [Ref. 11]</text>
<text x="506.3" y="59.75" transform="rotate(0.03 506.3 59.75)">Pedone et al. [Ref. 12]</text>
<text x="506.3" y="71.15" transform="rotate(0.03 506.3 71.15)">Swiler et al. [Ref. 18]</text>
<text x="506.3" y="82.55" transform="rotate(0.03 506.3 82.55)">Wang et al. [Ref. 25]</text>
<text x="506.3" y="93.95" transform="rotate(0.03 506.3 93.95)">MD Simulations</text>
<text x="506.3" y="116.85" transform="rotate(0.03 506.3 116.85)">Experiments [Ref. 14-16]</text>
<text x="506.3" y="128.35" transform="rotate(0.03 506.3 128.35)">Theoretical [Ref. 17]</text>
</g>
<text font-family="Liberation Sans, Arial, sans-serif" font-size="13.5" fill="#111" text-anchor="middle" transform="translate(423.7 134.8) rotate(-89.97)">Strength, GPa.</text>
<text font-family="Liberation Sans, Arial, sans-serif" font-size="13.5" fill="#111" x="563.1" y="303.7" transform="rotate(0.03 563.1 303.7)">Strain rate, d<tspan font-family="Liberation Serif, Times New Roman, serif" font-size="12.7" dx="0.3">ε</tspan><tspan dx="1">/dt, s</tspan><tspan dy="-6.8" dx="0.6" font-size="9.1">-1</tspan><tspan dy="6.8" dx="0.8">.</tspan></text>
<text font-family="Liberation Serif, Times New Roman, serif" font-size="15.05" fill="#161616" x="578.7" y="326.1" transform="rotate(0.03 578.7 326.1)"><tspan font-weight="bold" font-size="16.5">(b)</tspan> Strength</text>
</svg>
</body></html>
